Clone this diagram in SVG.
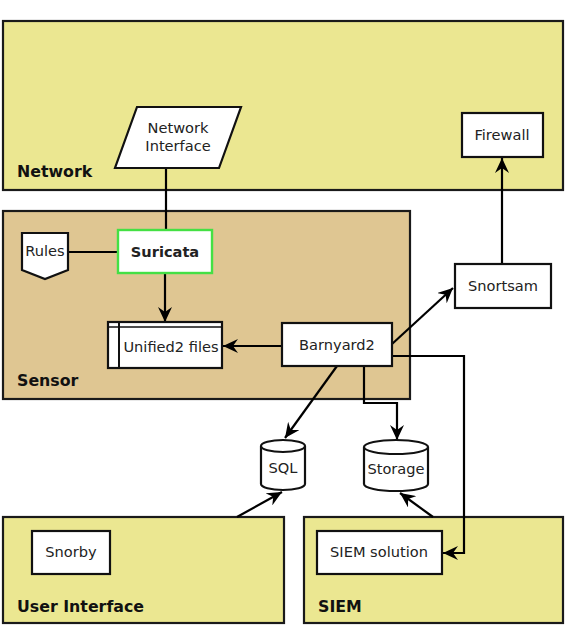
<svg xmlns="http://www.w3.org/2000/svg" width="572" height="630" viewBox="0 0 572 630">
<defs>
<style>
.cont{stroke:#1a1a1a;stroke-width:2.2}
.yel{fill:#ebe791}
.tan{fill:#dfc692}
.box{fill:#fff;stroke:#111;stroke-width:2.2}
.t{font-family:"DejaVu Sans",sans-serif;font-size:14.6px;fill:#222;text-anchor:middle}
.lbl{font-family:"DejaVu Sans",sans-serif;font-size:15.8px;font-weight:bold;fill:#111}
.c{fill:none;stroke:#000;stroke-width:2.2}
</style>
<marker id="ah" viewBox="-15 -7 16 14" markerWidth="16" markerHeight="14" refX="0" refY="0" orient="auto" markerUnits="userSpaceOnUse">
<path d="M0,0 L-15,-7 L-10,0 L-15,7 Z" fill="#000"/>
</marker>
</defs>
<rect width="572" height="630" fill="#fff"/>

<g id="network">
<rect class="cont yel" x="3" y="21" width="560" height="169"/>
<text class="lbl" x="17" y="177">Network</text>
</g>
<g id="sensor">
<rect class="cont tan" x="3" y="211" width="407" height="188"/>
<text class="lbl" x="17" y="386">Sensor</text>
</g>
<g id="user-interface">
<rect class="cont yel" x="3" y="517" width="281" height="106"/>
<text class="lbl" x="17" y="612">User Interface</text>
</g>
<g id="siem">
<rect class="cont yel" x="304" y="517" width="259" height="106"/>
<text class="lbl" x="318" y="612">SIEM</text>
</g>

<g id="connectors">
<line class="c" x1="166" y1="168" x2="166" y2="230"/>
<line class="c" x1="68" y1="252" x2="118" y2="252"/>
<line class="c" x1="165" y1="273" x2="165" y2="322" marker-end="url(#ah)"/>
<line class="c" x1="282" y1="346" x2="223" y2="346" marker-end="url(#ah)"/>
<line class="c" x1="392" y1="344" x2="453" y2="288" marker-end="url(#ah)"/>
<line class="c" x1="502" y1="264" x2="502" y2="158" marker-end="url(#ah)"/>
<polyline class="c" points="392,356 464,356 464,553 443,553" marker-end="url(#ah)"/>
<polyline class="c" points="364,366 364,403 397,403 397,440" marker-end="url(#ah)"/>
<line class="c" x1="337" y1="366" x2="285" y2="438" marker-end="url(#ah)"/>
<line class="c" x1="237" y1="517" x2="282" y2="492" marker-end="url(#ah)"/>
<line class="c" x1="433" y1="517" x2="400" y2="493" marker-end="url(#ah)"/>
</g>

<g id="network-interface">
<polygon class="box" points="137,107 241,107 219,168 115,168"/>
<text class="t" x="178" y="133">Network</text>
<text class="t" x="178" y="151">Interface</text>
</g>
<g id="firewall">
<rect class="box" x="462" y="113" width="81" height="44"/>
<text class="t" x="502" y="140">Firewall</text>
</g>
<g id="rules">
<polygon class="box" points="22,233 68,233 68,270 45,279 22,270"/>
<text class="t" x="45" y="256">Rules</text>
</g>
<g id="suricata">
<rect x="118" y="230" width="94" height="43" fill="#fff" stroke="#44e044" stroke-width="2.4"/>
<text class="t" x="165" y="257" font-weight="bold" fill="#111">Suricata</text>
</g>
<g id="unified2">
<rect class="box" x="108" y="322" width="114" height="46"/>
<line x1="119" y1="322" x2="119" y2="368" stroke="#111" stroke-width="2"/>
<line x1="108" y1="327" x2="222" y2="327" stroke="#111" stroke-width="1.5"/>
<text class="t" x="171" y="352">Unified2 files</text>
</g>
<g id="barnyard2">
<rect class="box" x="282" y="323" width="110" height="43"/>
<text class="t" x="337" y="350">Barnyard2</text>
</g>
<g id="snortsam">
<rect class="box" x="455" y="264" width="96" height="44"/>
<text class="t" x="503" y="291">Snortsam</text>
</g>
<g id="sql">
<path class="box" d="M261,446 A22,6 0 0 1 305,446 L305,484 A22,6 0 0 1 261,484 Z"/>
<path d="M261,446 A22,6 0 0 0 305,446" fill="none" stroke="#111" stroke-width="2"/>
<text class="t" x="283" y="473">SQL</text>
</g>
<g id="storage">
<path class="box" d="M364,447 A32,7 0 0 1 428,447 L428,484 A32,7 0 0 1 364,484 Z"/>
<path d="M364,447 A32,7 0 0 0 428,447" fill="none" stroke="#111" stroke-width="2"/>
<text class="t" x="396" y="474">Storage</text>
</g>
<g id="snorby">
<rect class="box" x="32" y="531" width="78" height="43"/>
<text class="t" x="71" y="557">Snorby</text>
</g>
<g id="siem-solution">
<rect class="box" x="317" y="531" width="125" height="43"/>
<text class="t" x="379" y="557">SIEM solution</text>
</g>
</svg>
